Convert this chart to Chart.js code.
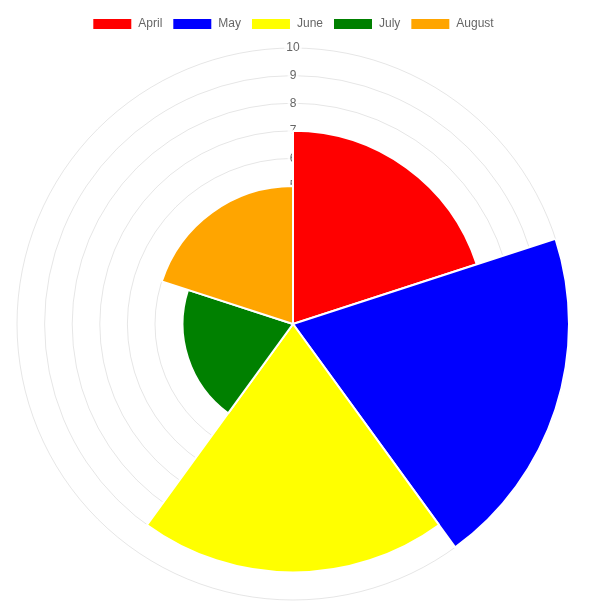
<!DOCTYPE html>
<html><head><meta charset="utf-8">
<script src="https://cdn.jsdelivr.net/npm/chart.js@4/dist/chart.umd.min.js"></script>
<style>html,body{margin:0;padding:0;background:#fff;overflow:hidden}#wrap{position:absolute;left:8px;top:8px;width:570px;height:600px}</style>
</head><body><div id="wrap"><canvas id="c"></canvas></div>
<script>
const labels = ["April", "May", "June", "July", "August"];
const values = [7, 10, 9, 4, 5];
const colors = ["red", "blue", "yellow", "green", "orange"];
new Chart(document.getElementById('c'), {
  type: 'polarArea',
  data: { labels: labels, datasets: [{ data: values, backgroundColor: colors, borderColor: '#fff', borderWidth: 2 }] },
  options: {
    responsive: true, maintainAspectRatio: false, animation: false,
    plugins: { legend: { position: 'top' } },
    scales: { r: { beginAtZero: true, max: 10, ticks: { stepSize: 1 } } }
  }
});
</script></body></html>
